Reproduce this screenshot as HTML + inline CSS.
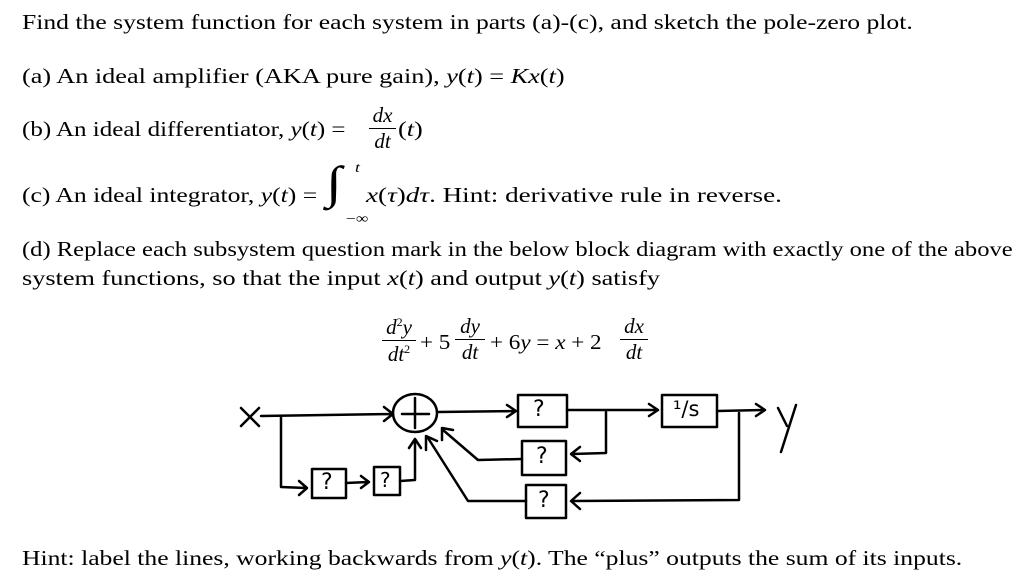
<!DOCTYPE html>
<html><head><meta charset="utf-8"><style>
body{margin:0;width:1024px;height:576px;background:#fff;position:relative;overflow:hidden;font-family:"Liberation Serif",serif;color:#000;font-size:21px}
.t{position:absolute;white-space:nowrap;line-height:1;transform:scaleX(1.25);transform-origin:0 0}
i{font-style:italic}
.fr{position:absolute;text-align:center;line-height:1}
.fr span{display:block}
.fr .bar{border-top:1px solid #000;margin:2px 0}
.q{position:absolute;font-family:'DejaVu Sans',sans-serif;font-size:22px;line-height:1}
</style></head><body>
<div class="t" style="left:22px;top:12px;transform:scaleX(1.22)">Find the system function for each system in parts (a)-(c), and sketch the pole-zero plot.</div>
<div class="t" style="left:22px;top:66px">(a) An ideal amplifier (AKA pure gain), <i>y</i>(<i>t</i>) = <i>Kx</i>(<i>t</i>)</div>
<div class="t" style="left:22px;top:119px;transform:scaleX(1.19)">(b) An ideal differentiator, <i>y</i>(<i>t</i>) =</div>
<div class="fr" style="left:369px;top:105px;width:27px"><span><i>dx</i></span><span class="bar"></span><span><i>dt</i></span></div>
<div class="t" style="left:398px;top:119px">(<i>t</i>)</div>
<div class="t" style="left:22px;top:185px;transform:scaleX(1.22)">(c) An ideal integrator, <i>y</i>(<i>t</i>) =</div>
<div class="t" style="left:326px;top:160px;font-size:46px">∫</div>
<div class="t" style="left:355px;top:162px;font-size:14px"><i>t</i></div>
<div class="t" style="left:346px;top:213px;font-size:14px">−∞</div>
<div class="t" style="left:366px;top:185px;transform:scaleX(1.29)"><i>x</i>(<i>τ</i>)<i>dτ</i>. Hint: derivative rule in reverse.</div>
<div class="t" style="left:22px;top:239px;transform:scaleX(1.17)">(d) Replace each subsystem question mark in the below block diagram with exactly one of the above</div>
<div class="t" style="left:22px;top:268px">system functions, so that the input <i>x</i>(<i>t</i>) and output <i>y</i>(<i>t</i>) satisfy</div>
<div class="fr" style="left:382px;top:316px;width:34px"><span><i>d</i><sup style="font-size:12px">2</sup><i>y</i></span><span class="bar"></span><span><i>dt</i><sup style="font-size:12px">2</sup></span></div>
<div class="t" style="left:420px;top:332px;transform:scaleX(1.1)">+ 5</div>
<div class="fr" style="left:455px;top:316px;width:30px"><span><i>dy</i></span><span class="bar"></span><span><i>dt</i></span></div>
<div class="t" style="left:490px;top:332px;transform:scaleX(1.1)">+ 6<i>y</i> = <i>x</i> + 2</div>
<div class="fr" style="left:620px;top:316px;width:28px"><span><i>dx</i></span><span class="bar"></span><span><i>dt</i></span></div>
<svg style="position:absolute;left:0;top:0" width="1024" height="576" fill="none" stroke="#000" stroke-width="2.5" stroke-linecap="round" stroke-linejoin="round">
<path d="M241 408 L259 426 M259 408 L241 426"/>
<path d="M261 416 L392 414 M384 407 L393 414 L384 421"/>
<ellipse cx="415" cy="413" rx="22" ry="19"/>
<path d="M415 398 V428 M402 414 H429"/>
<path d="M438 412 L515 411 M507 405 L516 411 L507 417"/>
<rect x="518" y="395" width="49" height="32"/>
<path d="M567 410 L657 410 M649 404 L658 410 L649 416"/>
<rect x="662" y="395" width="55" height="32"/>
<path d="M717 411 L764 410 M756 404 L765 410 L756 416"/>
<path d="M778 408 L787 426 M796 405 L781 452"/>
<path d="M606 412 V453 L572 454 M580 447 L571 454 L580 461"/>
<rect x="522" y="441" width="44" height="34"/>
<path d="M522 459 L478 460 L443 430 M442 440 L442 428 L453 430"/>
<path d="M739 413 V500 L572 501 M580 493 L571 501 L580 509"/>
<rect x="526" y="485" width="40" height="33"/>
<path d="M526 501 L468 501 L428 438 M426 450 L426 436 L437 441"/>
<path d="M281 416 V487 L306 488 M299 481 L307 488 L299 495"/>
<rect x="312" y="469" width="34" height="29"/>
<path d="M346 483 L368 482 M361 476 L369 482 L361 488"/>
<rect x="374" y="467" width="26" height="28"/>
<path d="M400 481 L415 480 V440 M409 448 L415 439 L421 448"/>
</svg>
<div class="q" style="left:533px;top:399px">?</div>
<div class="q" style="left:536px;top:446px">?</div>
<div class="q" style="left:538px;top:490px">?</div>
<div class="q" style="left:321px;top:472px">?</div>
<div class="q" style="left:380px;top:470px;font-size:20px">?</div>
<div class="q" style="left:673px;top:399px;font-size:21px">¹/s</div>
<div class="t" style="left:22px;top:548px;transform:scaleX(1.22)">Hint: label the lines, working backwards from <i>y</i>(<i>t</i>). The “plus” outputs the sum of its inputs.</div>
</body></html>
